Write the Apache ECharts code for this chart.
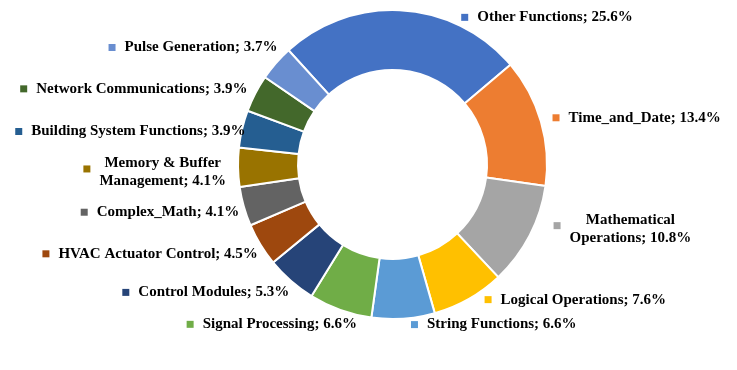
<!DOCTYPE html>
<html>
<head>
<meta charset="utf-8">
<script src="https://cdn.jsdelivr.net/npm/echarts@6/dist/echarts.min.js"></script>
<style>
html,body{margin:0;padding:0;background:#fff;}
#c{width:737px;height:370px;}
</style>
</head>
<body>
<div id="c"></div>
<script>
const categories = [
  'Other Functions', 'Time_and_Date', 'Mathematical\nOperations', 'Logical Operations',
  'String Functions', 'Signal Processing', 'Control Modules', 'HVAC Actuator Control',
  'Complex_Math', 'Memory & Buffer\nManagement', 'Building System Functions',
  'Network Communications', 'Pulse Generation'
];
const values = [25.6, 13.4, 10.8, 7.6, 6.6, 6.6, 5.3, 4.5, 4.1, 4.1, 3.9, 3.9, 3.7];
const colors = ['#4472C4', '#ED7D31', '#A5A5A5', '#FFC000', '#5B9BD5', '#70AD47', '#264478',
  '#9E480E', '#636363', '#997300', '#255E91', '#43682B', '#698ED0'];

// label nudges (layout only), relative to ECharts' default outside placement
const labelNudge = [[49, 17], [-7, -1], [6, -11], [2, -8], [-2, -4], [29, 5], [14, 4],
  [15, 4], [14, 3], [7, 5], [22, 5], [10, 0], [18, -9]];

const font = '"Liberation Serif", "Times New Roman", serif';
const data = categories.map((name, i) => {
  const lines = name.split('\n');
  const pct = values[i].toFixed(1) + '%';
  let fmt;
  if (lines.length === 1) {
    fmt = '{m|}{g|}{t|' + lines[0] + '; ' + pct + '}';
  } else {
    fmt = '{mb|}{g|}{t|' + lines[0] + '}\n{g2|}{t|' + lines[1] + '; ' + pct + '}';
  }
  return {
    name: name,
    value: values[i],
    itemStyle: { color: colors[i] },
    label: {
      formatter: fmt,
      rich: {
        m: { width: 7, height: 7, backgroundColor: colors[i], align: 'left' },
        mb: { width: 7, height: 7, backgroundColor: colors[i], align: 'left', verticalAlign: 'bottom' },
        g: { width: 9, align: 'left' },
        g2: { width: 16, align: 'left' },
        t: { fontFamily: font, fontWeight: 'bold', fontSize: 15, color: '#000', lineHeight: 18, align: 'center' }
      }
    }
  };
});

const chart = echarts.init(document.getElementById('c'), null, { renderer: 'canvas' });
chart.setOption({
  backgroundColor: '#fff',
  animation: false,
  series: [{
    type: 'pie',
    center: [392.5, 164.5],
    radius: [94.5, 154.5],
    startAngle: 132.3,
    clockwise: true,
    avoidLabelOverlap: false,
    itemStyle: { borderColor: '#fff', borderWidth: 2 },
    label: {
      show: true,
      position: 'outside',
      alignTo: 'none',
      fontFamily: font
    },
    labelLine: { show: false, length: 10, length2: 4 },
    labelLayout: function (p) {
      const o = labelNudge[p.dataIndex];
      return { dx: o[0], dy: o[1] };
    },
    data: data
  }]
});
</script>
</body>
</html>
